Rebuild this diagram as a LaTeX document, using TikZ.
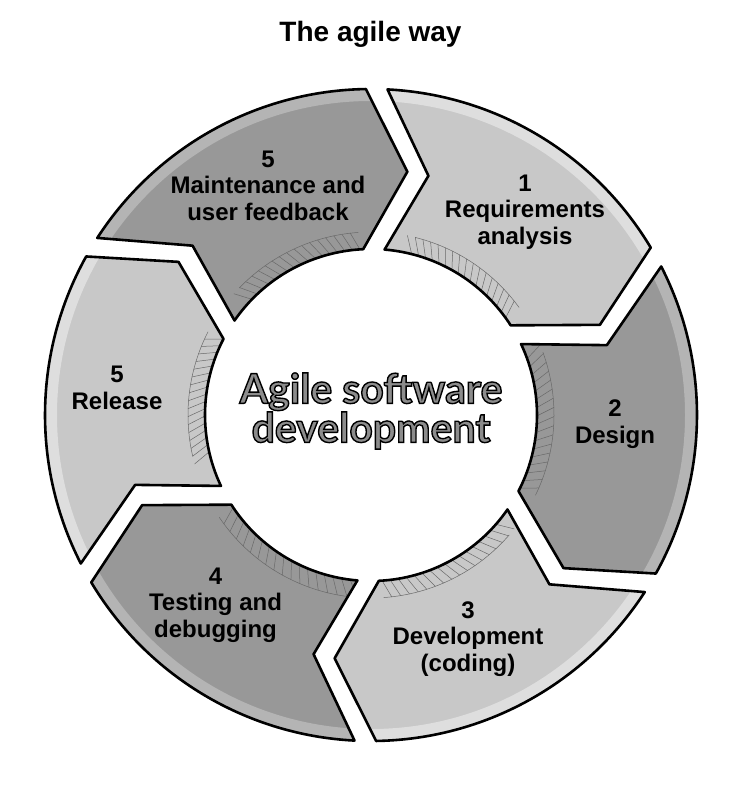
\documentclass[tikz,border=0pt]{standalone}
\usepackage{fontspec}
\setmainfont{Liberation Sans}
\newfontfamily\latofont{Lato}
\definecolor{segL}{RGB}{200,200,200}
\definecolor{segD}{RGB}{152,152,152}
\definecolor{rimL}{RGB}{222,222,222}
\definecolor{rimD}{RGB}{180,180,180}
\definecolor{txtG}{RGB}{140,140,140}
\definecolor{hatchC}{RGB}{105,105,105}
\def\Rout{326}\def\Rin{166}\def\Rmid{246}\def\dT{10}
\def\gO{1.9}\def\gM{2.5}\def\gI{3.7}
\newcommand\outlinetext[1]{\special{pdf:literal direct 0 G 1.4 w 2 Tr}#1\special{pdf:literal direct 0 Tr}}
\newcommand\segpathcmd[3]{%
  \path[#1] ({#2-\gO}:\Rout) arc[start angle={#2-\gO}, end angle={#3+\gO}, radius=\Rout]
    -- ({#3-\dT+\gM}:\Rmid) -- ({#3+\gI}:\Rin)
    arc[start angle={#3+\gI}, end angle={#2-\gI}, radius=\Rin]
    -- ({#2-\dT-\gM}:\Rmid) -- cycle;}
\newcommand\segment[6]{%
  \segpathcmd{fill=#3}{#1}{#2}
  \begin{scope}
    \segpathcmd{clip}{#1}{#2}
    \draw[line width=14pt,#4] (0,0) circle[radius=\Rout-5];
    \foreach \k in {0,...,16}{%
      \pgfmathsetmacro\hang{#5+(#6-#5)*\k/16}
      \draw[hatchline] ({\hang}:{\Rin+1}) -- ({\hang+2.5}:{\Rin+17});}
    \draw[hatchline] ({#5}:{\Rin+17}) arc[start angle={#5}, end angle={#6}, radius=\Rin+17];
  \end{scope}
  \segpathcmd{segline}{#1}{#2}}
\tikzset{
  segline/.style={draw=black, line width=2.6pt, line join=round},
  hatchline/.style={draw=hatchC, line width=0.5pt, line cap=round},
  lab/.style={align=center, font=\fontsize{24}{26.5}\selectfont\bfseries, text=black}
}
\begin{document}
\begin{tikzpicture}[x=1pt,y=-1pt]
\useasboundingbox (0,0) rectangle (738,800);
\fill[white] (0,0) rectangle (738,800);
\node[anchor=base, font=\fontsize{28}{32}\selectfont\bfseries] (title) at (370.5,41.7) {The agile way};
\begin{scope}[shift={(371,415)}, yscale=-1]
  \segment{89}{29}{segL}{rimL}{76}{36}
  \segment{29}{-31}{segD}{rimD}{20}{-26}
  \segment{-31}{-91}{segL}{rimL}{-41}{-86}
  \segment{-91}{-151}{segD}{rimD}{-97}{-146}
  \segment{-151}{-211}{segL}{rimL}{-167}{-207}
  \segment{-211}{-271}{segD}{rimD}{-224}{-266}
\end{scope}
\node[lab] (lab5m) at (268,185.5) {5\\Maintenance and\\user feedback};
\node[lab] (lab1) at (525,212) {1\\Requirements\\analysis};
\node[lab] (lab2) at (615,424) {2\\Design};
\node[lab] (lab3) at (468,639) {3\\Development\\(coding)};
\node[lab] (lab4) at (215.5,605) {4\\Testing and\\debugging};
\node[lab] (lab5r) at (117,388) {5\\Release};
\node[align=center, text=txtG, font=\latofont\bfseries\fontsize{41}{39}\selectfont] (core) at (371,411)
  {\outlinetext{Agile software}\\\outlinetext{development}};
\end{tikzpicture}
\end{document}
